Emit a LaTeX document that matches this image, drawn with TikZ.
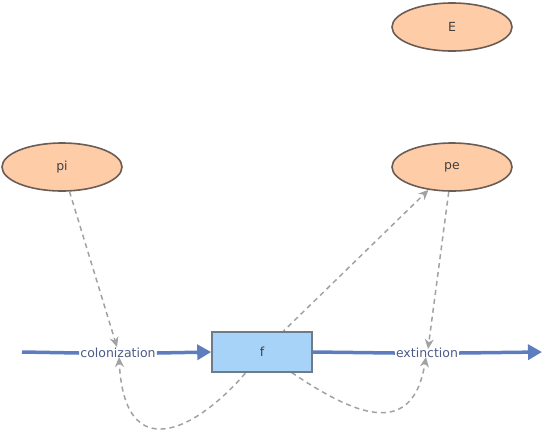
\documentclass[tikz,border=0pt]{standalone}
\usepackage{fontspec}
\setmainfont{DejaVu Sans}
\usetikzlibrary{shapes.geometric,arrows.meta,backgrounds}
\definecolor{peach}{HTML}{FFCCA8}
\definecolor{ellborder}{HTML}{6A5D55}
\definecolor{boxfill}{HTML}{A6D3F7}
\definecolor{boxborder}{HTML}{6E7C8A}
\definecolor{flowblue}{HTML}{5E7DBE}
\definecolor{dashgray}{HTML}{A2A2A2}
\definecolor{labeltext}{HTML}{4B5A88}
\tikzset{
  varell/.style={ellipse, draw=ellborder, fill=peach, line width=1.6pt,
    minimum width=120pt, minimum height=48pt, inner sep=0pt,
    font=\fontsize{12.5}{14}\selectfont, text=black!75},
  stockbox/.style={rectangle, draw=boxborder, fill=boxfill, line width=1.6pt,
    minimum width=100pt, minimum height=40pt, inner sep=0pt,
    font=\fontsize{12.5}{14}\selectfont, text=black!75},
  flowlabel/.style={inner sep=1pt, text=labeltext, font=\fontsize{12.5}{14}\selectfont},
  flowline/.style={draw=flowblue, line width=3.5pt},
  flowarrow/.style={flowline, -{Triangle[length=14pt,width=15pt]}},
  linkarrow/.style={draw=dashgray, line width=1.5pt, dash pattern=on 5pt off 4pt,
    -{Stealth[length=10pt,width=9pt]}}
}
\begin{document}
\begin{tikzpicture}[x=1pt,y=-1pt]
\useasboundingbox (0,0) rectangle (553,432);
\node[varell] (E) at (452,27) {E};
\node[varell] (pi) at (62,167) {pi};
\node[varell] (pe) at (452,167) {pe};
\node[stockbox] (f) at (262,352) {f};
\coordinate (src) at (22,352);
\coordinate (sink) at (542,352);
\node[flowlabel] (colon) at (118,353) {colonization};
\node[flowlabel] (ext) at (427,353) {extinction};
\coordinate (cinA) at (117,347);
\coordinate (cinB) at (119,357);
\coordinate (extA) at (428,349);
\coordinate (extB) at (426,357);
\begin{scope}[on background layer]
\draw[flowline] (src) -- (colon.west);
\draw[flowarrow] (colon.east) -- (f.west);
\draw[flowline] (f.east) -- (ext.west);
\draw[flowarrow] (ext.east) -- (sink);
\draw[linkarrow] (f.center) .. controls (212,422) and (125,478) .. (cinB);
\draw[linkarrow] (f.center) .. controls (330,400) and (410,455) .. (extB);
\draw[linkarrow] (f.center) -- (pe);
\end{scope}
\draw[linkarrow] (pi) -- (cinA);
\draw[linkarrow] (pe) -- (extA);
\end{tikzpicture}
\end{document}
